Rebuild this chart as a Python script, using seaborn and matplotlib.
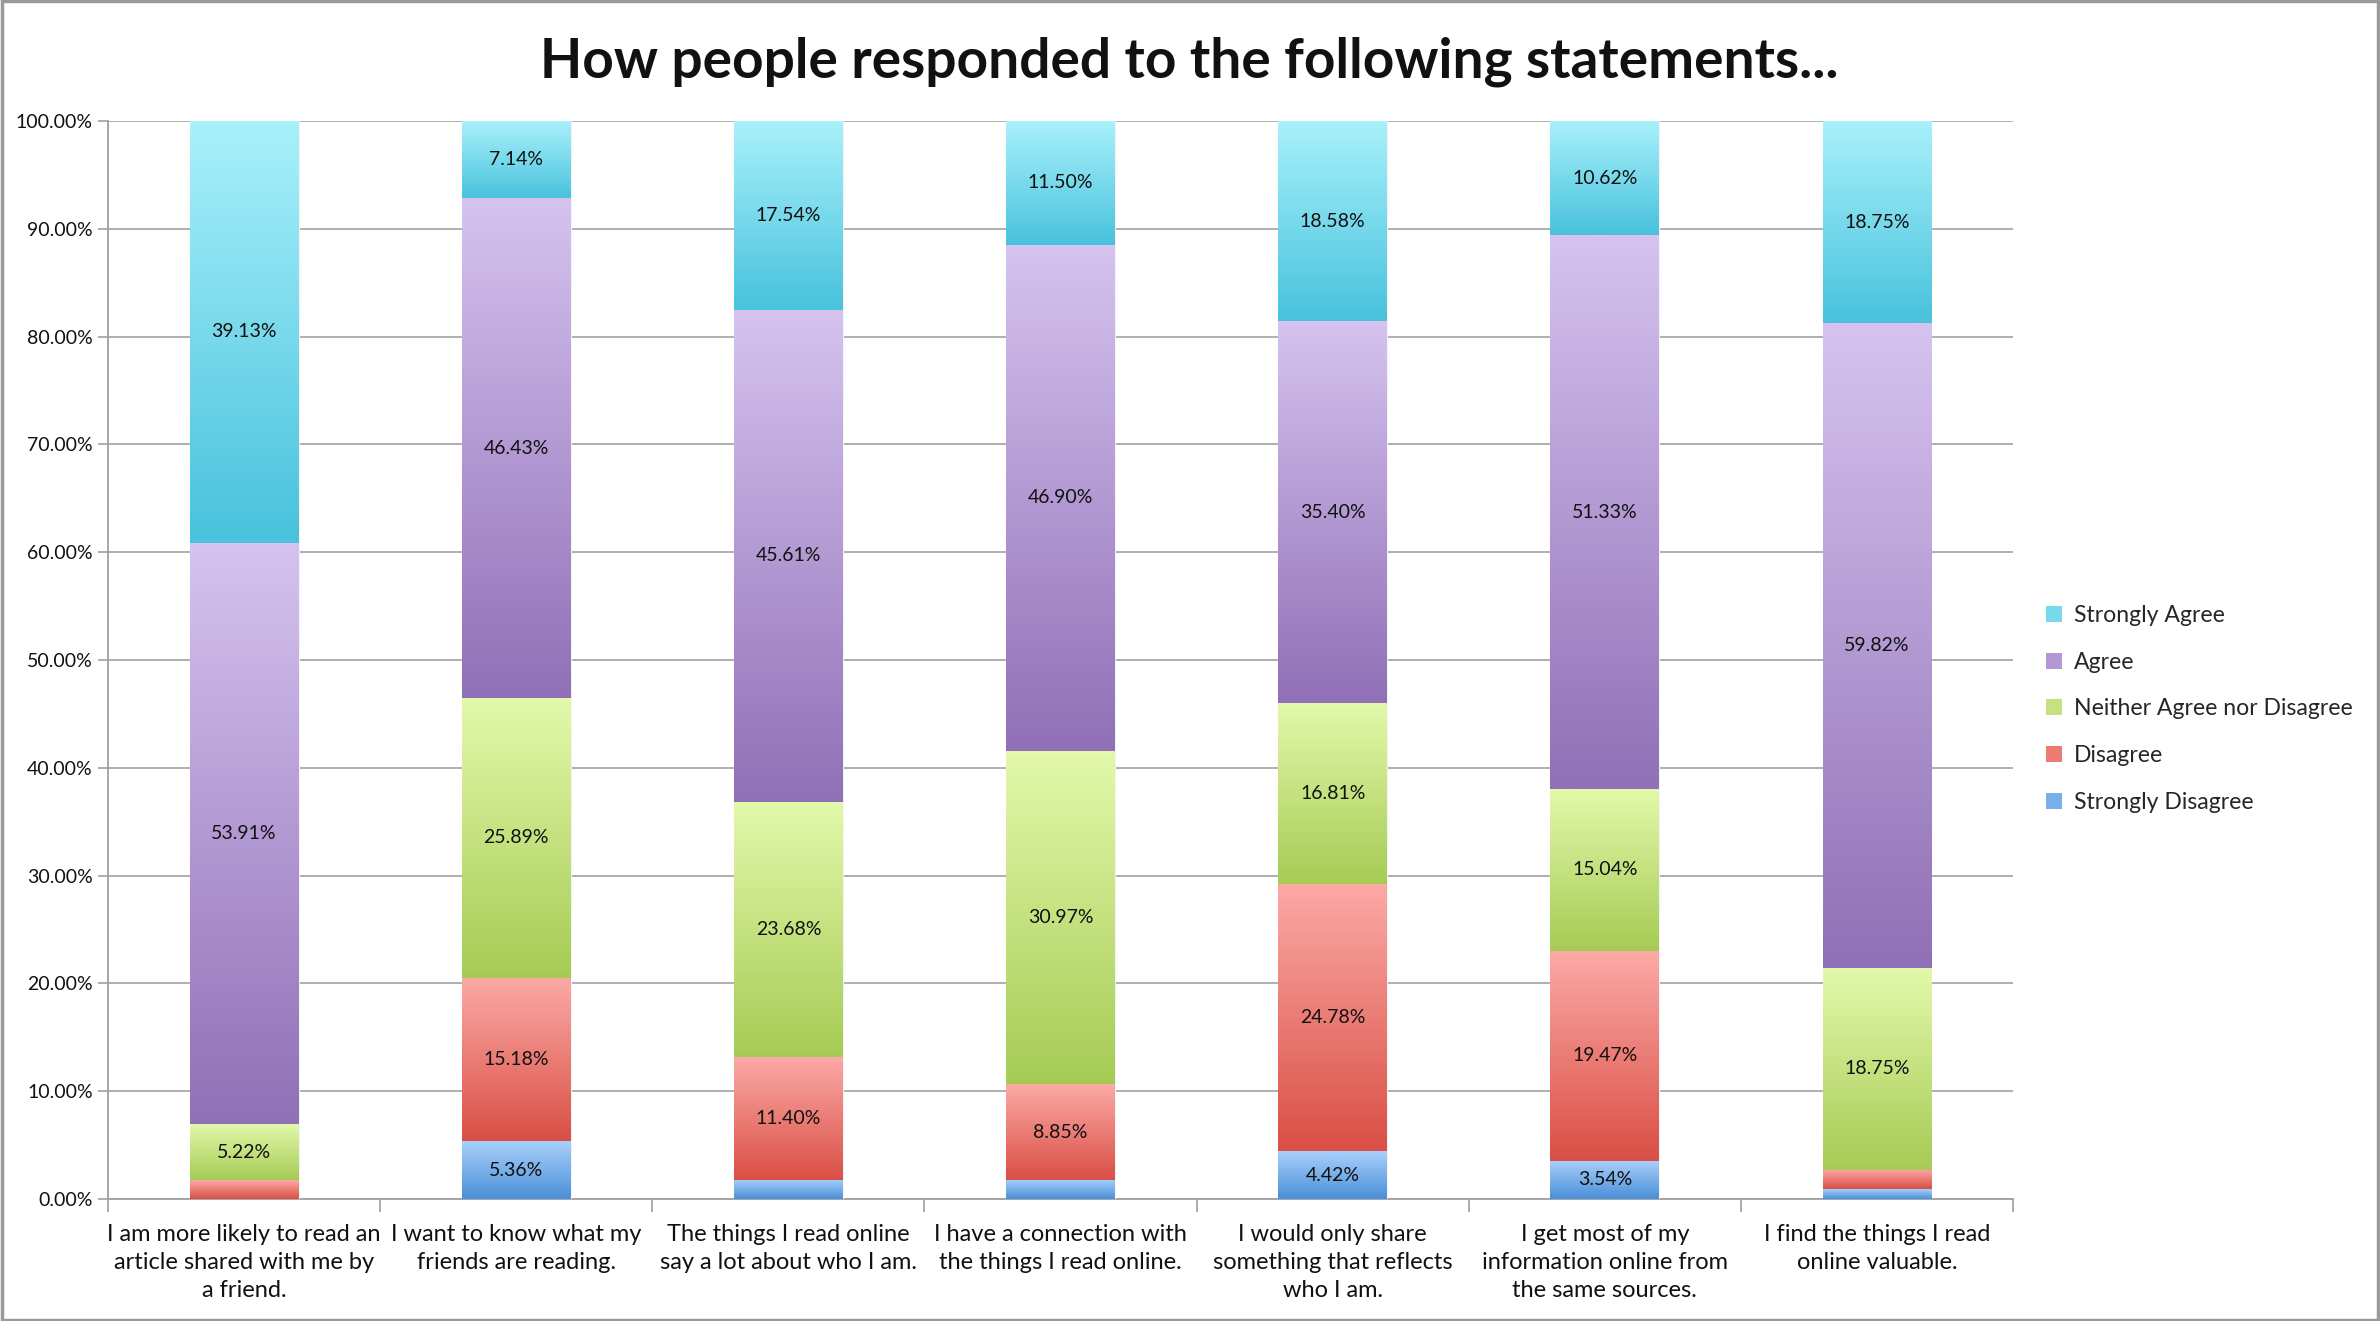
import numpy as np
import pandas as pd
import matplotlib
matplotlib.use("Agg")
import matplotlib.pyplot as plt
import seaborn as sns
from matplotlib.colors import LinearSegmentedColormap
from matplotlib.patches import Patch, Rectangle
from matplotlib.ticker import FuncFormatter, FixedLocator

categories = [
    "I am more likely to read an\narticle shared with me by\na friend.",
    "I want to know what my\nfriends are reading.",
    "The things I read online\nsay a lot about who I am.",
    "I have a connection with\nthe things I read online.",
    "I would only share\nsomething that reflects\nwho I am.",
    "I get most of my\ninformation online from\nthe same sources.",
    "I find the things I read\nonline valuable.",
]
series_names = ["Strongly Disagree", "Disagree", "Neither Agree nor Disagree", "Agree", "Strongly Agree"]
strongly_disagree = [0.00, 5.36, 1.77, 1.78, 4.42, 3.54, 0.89]
disagree = [1.74, 15.18, 11.40, 8.85, 24.78, 19.47, 1.79]
neither = [5.22, 25.89, 23.68, 30.97, 16.81, 15.04, 18.75]
agree = [53.91, 46.43, 45.61, 46.90, 35.40, 51.33, 59.82]
strongly_agree = [39.13, 7.14, 17.54, 11.50, 18.58, 10.62, 18.75]
yticks = [0, 10, 20, 30, 40, 50, 60, 70, 80, 90, 100]

series_values = [strongly_disagree, disagree, neither, agree, strongly_agree]
# (top colour, bottom colour) gradient per series
grad_colors = [
    ("#a9d0fb", "#4a8fd8"),
    ("#fcaaa6", "#d94f45"),
    ("#e3f9ab", "#a6cb55"),
    ("#d6c3ef", "#9070b6"),
    ("#a9f1fb", "#48c2dd"),
]
legend_colors = ["#79aeea", "#ec7b74", "#c4e27f", "#b399d4", "#78d8ec"]

sns.set_theme(style="white")
plt.rcParams['font.family'] = ['Lato', 'DejaVu Sans']

fig = plt.figure(figsize=(23.8, 13.21), dpi=100)
ax = fig.add_axes([0.0454, 0.0924, 0.8004, 0.816])

bottom = np.zeros(len(categories))
for name, vals, (ctop, cbot) in zip(series_names, series_values, grad_colors):
    vals = np.array(vals, dtype=float)
    df = pd.DataFrame({"cat": categories, "val": vals})
    n_before = len(ax.patches)
    sns.barplot(data=df, x="cat", y="val", bottom=bottom.copy(), color=cbot,
                width=0.40, ax=ax, edgecolor="#f4f4f4", linewidth=0.8,
                saturation=1, zorder=3, order=categories)
    new_patches = ax.patches[n_before:]
    cmap = LinearSegmentedColormap.from_list(name, [cbot, ctop])
    grad = np.linspace(0, 1, 256).reshape(-1, 1)
    for p in new_patches:
        x0, y0 = p.get_x(), p.get_y()
        w, h = p.get_width(), p.get_height()
        if h <= 0:
            continue
        im = ax.imshow(grad, cmap=cmap, origin="lower", aspect="auto",
                       extent=[x0, x0 + w, y0, y0 + h], zorder=3.5,
                       interpolation="bilinear")
        im.set_clip_path(p)
    for i, v in enumerate(vals):
        if v >= 3:
            ax.text(i, bottom[i] + v / 2, f"{v:.2f}%", ha="center", va="center",
                    fontsize=14, color="#111111", zorder=5)
    bottom = bottom + vals

ax.set_xlim(-0.5, len(categories) - 0.5)
ax.set_ylim(0, 100)
ax.set_xlabel("")
ax.set_ylabel("")

ax.yaxis.set_major_locator(FixedLocator(yticks))
ax.yaxis.set_major_formatter(FuncFormatter(lambda v, p: f"{v:.2f}%"))
ax.yaxis.grid(True, color="#a9a9a9", linewidth=1.3, zorder=0)
ax.set_axisbelow(True)
ax.tick_params(axis="y", labelsize=14, length=7, width=1.2, color="#a0a0a0",
               direction="out", left=True, pad=4, labelcolor="#111111")
ax.set_xticks(range(len(categories)))
ax.set_xticklabels(categories, fontsize=17, color="#111111", linespacing=1.42)
ax.tick_params(axis="x", length=0, pad=18)
ax.set_xticks(np.arange(-0.5, len(categories) + 0.5, 1), minor=True)
ax.tick_params(axis="x", which="minor", length=9, width=1.2, color="#a0a0a0", direction="out", bottom=True)

for s in ["top", "right"]:
    ax.spines[s].set_visible(False)
for s in ["left", "bottom"]:
    ax.spines[s].set_color("#a0a0a0")
    ax.spines[s].set_linewidth(1.3)

fig.text(0.4995, 0.953, "How people responded to the following statements...",
         ha="center", va="center", fontsize=39.6, fontweight="bold", color="#111111")

handles = [Patch(facecolor=c, edgecolor="none") for c in legend_colors[::-1]]
leg = fig.legend(handles, series_names[::-1], loc="center left",
                 bbox_to_anchor=(0.851, 0.4633), frameon=False, fontsize=16.6,
                 handlelength=0.7, handleheight=0.7, handletextpad=0.5,
                 labelspacing=1.12)

fig.patches.append(Rectangle((0.001, 0.001), 0.998, 0.998, transform=fig.transFigure,
                             fill=False, edgecolor="#9a9a9a", linewidth=2.5))

fig.savefig("out.png", dpi=100)
